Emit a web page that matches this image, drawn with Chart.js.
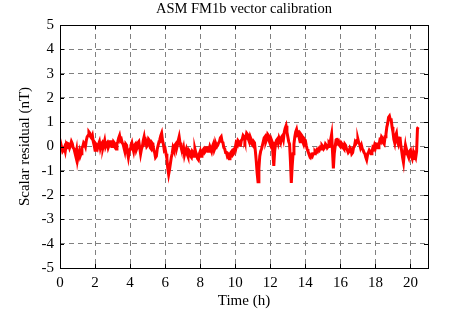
<!DOCTYPE html>
<html lang="en">
<head>
  <meta charset="UTF-8" />
  <title>ASM FM1b vector calibration</title>
  <script src="https://cdn.jsdelivr.net/npm/chart.js"></script>
  <style>
    body {
      margin: 0;
      background: white;
    }
    #wrap {
      width: 474px;
      height: 332px;
    }
  </style>
</head>
<body>
  <div id="wrap"><canvas id="residualChart" width="474" height="332"></canvas></div>

  <script>
    // scalar residual after vector calibration, one sample every 0.05 h
    const startHour = 0;
    const stepHours = 0.05;
    const residual = [
      0.00, 0.10, -0.05, -0.20, -0.15, -0.05, -0.20, 0.05, -0.05, 0.12, 0.10, -0.05, 0.05, 0.20, 0.12, -0.05, -0.10, -0.25, -0.35, -0.15,
      -0.55, -0.35, -0.20, -0.40, -0.30, -0.05, 0.00, 0.15, 0.10, 0.00, 0.25, 0.40, 0.45, 0.60, 0.55, 0.40, 0.35, 0.45, 0.20, 0.05,
      -0.15, 0.10, 0.05, -0.05, 0.10, 0.20, -0.05, 0.10, 0.15, -0.05, 0.10, 0.25, 0.00, 0.10, 0.15, -0.05, 0.05, 0.20, 0.20, 0.00,
      0.00, 0.20, 0.15, -0.05, -0.10, 0.10, 0.20, 0.35, 0.45, 0.25, 0.30, 0.15, 0.10, -0.05, -0.20, 0.10, 0.05, -0.25, -0.45, -0.20,
      -0.10, 0.05, 0.15, -0.05, -0.20, 0.05, 0.10, -0.15, -0.05, 0.15, 0.20, -0.05, -0.30, -0.10, 0.00, 0.25, 0.40, 0.15, 0.20, 0.00,
      0.05, 0.30, 0.25, -0.05, -0.10, 0.15, 0.10, -0.15, -0.25, -0.45, -0.40, -0.10, 0.05, 0.20, 0.30, 0.45, 0.55, 0.25, 0.10, -0.15,
      -0.10, -0.30, -0.50, -0.90, -1.15, -0.95, -0.70, -0.45, -0.30, -0.05, -0.15, 0.05, 0.10, -0.10, 0.05, 0.25, 0.40, 0.15, 0.00, -0.15,
      -0.20, -0.05, -0.35, -0.20, -0.10, -0.30, -0.40, -0.15, -0.20, -0.40, -0.45, -0.20, -0.25, -0.40, -0.10, -0.25, -0.35, -0.50, -0.55, -0.30,
      -0.20, -0.40, -0.30, -0.15, -0.10, -0.25, -0.20, -0.05, -0.05, -0.20, -0.15, 0.00, -0.10, -0.20, 0.00, 0.10, -0.15, -0.05, 0.10, 0.00,
      0.05, 0.15, 0.20, 0.35, 0.40, 0.20, 0.15, -0.05, -0.10, -0.25, -0.25, -0.40, -0.35, -0.50, -0.45, -0.25, -0.20, -0.35, -0.30, -0.10,
      -0.05, 0.15, 0.10, 0.25, 0.20, 0.05, 0.05, 0.25, 0.30, 0.45, 0.40, 0.25, 0.35, 0.55, 0.50, 0.30, 0.20, 0.40, 0.30, 0.10,
      0.05, 0.20, 0.15, -0.20, -0.60, -1.10, -1.45, -0.90, -0.40, -0.20, -0.10, 0.05, 0.20, 0.35, 0.40, 0.20, 0.30, 0.50, 0.45, 0.20,
      0.10, 0.30, 0.20, -0.30, -0.80, -0.20, 0.10, 0.25, 0.30, 0.15, 0.35, 0.25, 0.20, 0.40, 0.45, 0.30, 0.60, 0.75, 0.85, 0.60,
      0.40, 0.20, 0.10, -0.60, -1.50, -0.80, -0.30, 0.10, 0.40, 0.60, 0.70, 0.50, 0.55, 0.35, 0.20, 0.50, 0.45, 0.20, 0.10, 0.30,
      0.25, 0.05, -0.10, -0.20, -0.30, -0.40, -0.45, -0.35, -0.40, -0.30, -0.30, -0.20, -0.25, -0.15, -0.20, -0.10, -0.15, -0.05, -0.10, 0.05,
      0.00, -0.10, -0.05, 0.10, 0.05, -0.05, 0.00, 0.15, 0.10, 0.30, 0.50, -0.20, -0.90, -0.30, 0.00, 0.25, 0.35, 0.15, 0.20, 0.05,
      0.00, 0.15, 0.10, -0.05, -0.10, 0.10, 0.05, -0.10, -0.15, -0.25, -0.20, -0.05, -0.10, -0.30, -0.25, -0.05, 0.00, 0.20, 0.15, 0.25,
      0.30, 0.15, 0.10, -0.05, 0.05, -0.10, -0.15, -0.25, -0.30, -0.45, -0.55, -0.35, -0.25, -0.15, -0.20, -0.30, -0.25, -0.05, -0.10, 0.05,
      -0.05, 0.10, 0.10, -0.05, 0.05, 0.25, 0.20, 0.40, 0.35, 0.15, 0.10, 0.40, 0.50, 0.80, 0.95, 1.20, 1.25, 1.10, 1.10, 0.80,
      0.60, 0.30, 0.15, 0.45, 0.55, 0.20, 0.10, 0.35, 0.40, 0.05, -0.20, -0.45, -0.65, -0.25, 0.00, -0.30, -0.20, -0.35, -0.45, -0.20,
      -0.15, -0.40, -0.50, -0.30, -0.55, -0.35, -0.45, -0.20, 0.75, 0.80
    ];

    const xTicks = [0, 2, 4, 6, 8, 10, 12, 14, 16, 18, 20];
    const yTicks = [-5, -4, -3, -2, -1, 0, 1, 2, 3, 4, 5];
    const xMax = 21;
    const chartTitle = "ASM FM1b vector calibration";

    const points = residual.map((v, i) => ({ x: startHour + i * stepHours, y: v }));

    const serif = "'Liberation Serif', 'Times New Roman', serif";

    // title centred over the plot box, then the box with inward ticks
    const boxPlugin = {
      id: "box",
      afterDraw(chart) {
        const { ctx, chartArea: a, scales } = chart;
        const tick = 4;
        ctx.save();
        ctx.fillStyle = "#000";
        ctx.font = "14.5px " + serif;
        ctx.textAlign = "center";
        ctx.textBaseline = "middle";
        ctx.fillText(chartTitle, (a.left + a.right) / 2, 9);

        ctx.strokeStyle = "#000";
        ctx.lineWidth = 1;
        ctx.beginPath();
        xTicks.forEach(t => {
          const x = Math.round(scales.x.getPixelForValue(t)) + 0.5;
          ctx.moveTo(x, a.bottom);
          ctx.lineTo(x, a.bottom - tick);
          ctx.moveTo(x, a.top);
          ctx.lineTo(x, a.top + tick);
        });
        yTicks.forEach(t => {
          const y = Math.round(scales.y.getPixelForValue(t)) + 0.5;
          ctx.moveTo(a.left, y);
          ctx.lineTo(a.left + tick, y);
          ctx.moveTo(a.right, y);
          ctx.lineTo(a.right - tick, y);
        });
        ctx.stroke();
        ctx.strokeRect(Math.round(a.left) + 0.5, Math.round(a.top) + 0.5,
          Math.round(a.right - a.left), Math.round(a.bottom - a.top));
        ctx.restore();
      }
    };

    new Chart(document.getElementById("residualChart"), {
      type: "line",
      data: {
        datasets: [{
          data: points,
          borderColor: "#ff0000",
          borderWidth: 3,
          pointRadius: 0,
          tension: 0,
          fill: false
        }]
      },
      options: {
        responsive: false,
        animation: false,
        layout: { padding: { top: 25, right: 46, bottom: 0, left: 0 } },
        plugins: {
          legend: { display: false },
          tooltip: { enabled: false },
          title: { display: false }
        },
        scales: {
          x: {
            type: "linear",
            min: 0,
            max: xMax,
            afterBuildTicks: s => { s.ticks = xTicks.map(v => ({ value: v })); },
            afterFit: s => { s.height = 64; },
            grid: { color: "#808080", lineWidth: 1, drawTicks: false },
            border: { display: false, dash: [5, 4] },
            ticks: {
              color: "#000",
              padding: 6,
              maxRotation: 0,
              font: { family: serif, size: 15 }
            },
            title: {
              display: true,
              text: "Time (h)",
              color: "#000",
              font: { family: serif, size: 15, lineHeight: 1.2 },
              padding: { top: 0, bottom: 22 }
            }
          },
          y: {
            min: -5,
            max: 5,
            afterBuildTicks: s => { s.ticks = yTicks.map(v => ({ value: v })); },
            afterFit: s => { s.width = 60; },
            grid: { color: "#808080", lineWidth: 1, drawTicks: false },
            border: { display: false, dash: [5, 4] },
            ticks: {
              color: "#000",
              padding: 6,
              font: { family: serif, size: 15 }
            },
            title: {
              display: true,
              text: "Scalar residual (nT)",
              color: "#000",
              font: { family: serif, size: 15, lineHeight: 1.2 },
              padding: { top: 16, bottom: 0 }
            }
          }
        }
      },
      plugins: [boxPlugin]
    });
  </script>
</body>
</html>
